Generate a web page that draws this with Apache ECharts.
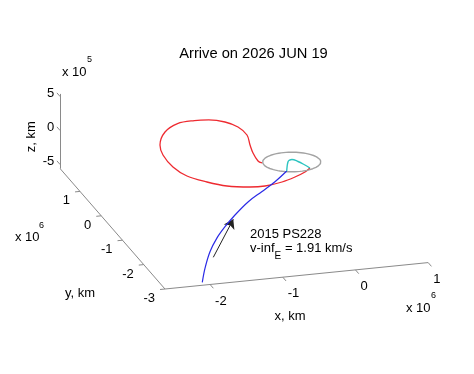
<!DOCTYPE html>
<html><head><meta charset="utf-8">
<script src="https://cdn.jsdelivr.net/npm/echarts@6/dist/echarts.min.js"></script>
<style>html,body{margin:0;padding:0;background:#fff}#c{width:474px;height:374px}</style>
</head><body><div id="c"></div>
<script>
// ---- data (km) ----
const titleText = 'Arrive on 2026 JUN 19';
const xLim = [-2.62e6, 1.0e6];
const yLim = [-3.0e6, 1.93e6];
const zLim = [-5.6e5, 5.4e5];
const xTicks = [-2e6, -1e6, 0, 1e6];
const xTickLabels = ['-2', '-1', '0', '1'];
const yTicks = [-3e6, -2e6, -1e6, 0, 1e6];
const yTickLabels = ['-3', '-2', '-1', '0', '1'];
const zTicks = [-5e5, 0, 5e5];
const zTickLabels = ['-5', '0', '5'];
// approach leg (blue)
const approachX = [-2.074e6, -1.931e6, -1.730e6, -1.542e6, -1.347e6, -1.136e6, -0.866e6, -0.624e6, -0.391e6, -0.162e6];
const approachY = [-2.888e6, -2.525e6, -2.073e6, -1.748e6, -1.470e6, -1.218e6, -0.921e6, -0.723e6, -0.551e6, -0.320e6];
const approachZ = [-5.6e5, -5.0e5, -4.4e5, -3.8e5, -3.3e5, -2.7e5, -2.1e5, -1.6e5, -1.0e5, -0.5e5];
// near-Earth leg (cyan)
const nearX = [-0.162e6, -0.120e6, -0.075e6, -0.040e6, -0.018e6, 0.031e6, 0.085e6, 0.128e6, 0.165e6];
const nearY = [-0.320e6, -0.190e6, -0.059e6, 0.030e6, 0.067e6, 0.093e6, -0.005e6, -0.141e6, -0.295e6];
const nearZ = [-0.5e5, -0.5e5, -0.5e5, -0.5e5, -0.5e5, -0.5e5, -0.5e5, -0.5e5, -0.5e5];
// departure loop (red)
const loopX = [0.165e6, 0.058e6, -0.124e6, -0.343e6, -0.602e6, -0.803e6, -1.083e6, -1.292e6, -1.479e6, -1.557e6, -1.551e6, -1.479e6, -1.272e6, -1.021e6, -0.775e6, -0.585e6, -0.403e6, -0.294e6, -0.268e6, -0.340e6, -0.390e6, -0.415e6, -0.387e6];
const loopY = [-0.295e6, -0.427e6, -0.578e6, -0.717e6, -0.803e6, -0.784e6, -0.660e6, -0.433e6, -0.131e6, 0.261e6, 0.751e6, 1.139e6, 1.610e6, 1.880e6, 1.930e6, 1.900e6, 1.760e6, 1.522e6, 1.187e6, 0.798e6, 0.486e6, 0.165e6, 0.075e6];
const loopZ = loopX.map(() => -0.5e5);
// Moon orbit (gray circle)
const moonOrbitRadius = 384400;
const moonOrbitZ = -0.5e5;
// velocity arrow
const arrowX = [-1.854e6, -1.183e6];
const arrowY = [-2.654e6, -1.298e6];
const arrowZ = [-3.0e5, -3.0e5];
const asteroidName = '2015 PS228';
const vinfText = '1.91 km/s';

// ---- view projection (pixels per 1e6 km in x,y and per 1e5 km in z) ----
const view = { ox: 291.7, oy: 158.6, ex: [72.7, -7.3], ey: [-21.25, -24.4], ez: [0, -6.8] };
function proj(x, y, z) {
  const X = x / 1e6, Y = y / 1e6, Z = z / 1e5;
  return [view.ox + view.ex[0] * X + view.ey[0] * Y + view.ez[0] * Z,
          view.oy + view.ex[1] * X + view.ey[1] * Y + view.ez[1] * Z];
}
const zip3 = (a, b, c) => a.map((v, i) => proj(v, b[i], c[i]));

const moonPts = [];
for (let k = 0; k <= 72; k++) {
  const t = k / 72 * 2 * Math.PI;
  moonPts.push(proj(moonOrbitRadius * Math.cos(t), moonOrbitRadius * Math.sin(t), moonOrbitZ));
}

// axis lines and ticks
const axisSegs = [];
axisSegs.push([proj(xLim[0], yLim[0], zLim[0]), proj(xLim[1], yLim[0], zLim[0])]);
axisSegs.push([proj(xLim[0], yLim[0], zLim[0]), proj(xLim[0], yLim[1], zLim[0])]);
axisSegs.push([proj(xLim[0], yLim[1], zLim[0]), proj(xLim[0], yLim[1], zLim[1])]);
xTicks.forEach(v => axisSegs.push([proj(v, yLim[0], zLim[0]), proj(v, yLim[0] - 0.155e6, zLim[0])]));
yTicks.forEach(v => axisSegs.push([proj(xLim[0], v, zLim[0]), proj(xLim[0] - 0.068e6, v, zLim[0])]));
zTicks.forEach(v => axisSegs.push([proj(xLim[0], yLim[1], v), proj(xLim[0], yLim[1] + 0.155e6, v)]));

const FONT = '"Liberation Sans", Arial, Helvetica, sans-serif';
function txt(text, x, y, size, align, valign, rot) {
  return { type: 'text', x: x, y: y, rotation: rot || 0, z: 100,
    style: { text: text, fontSize: size, fontFamily: FONT, fill: '#000',
      align: align, textAlign: align, verticalAlign: valign, textVerticalAlign: valign } };
}
const graphics = [];
xTicks.forEach((v, i) => { const p = proj(v, yLim[0], zLim[0]); graphics.push(txt(xTickLabels[i], p[0] + 5, p[1] + 16.5, 13, 'left', 'middle')); });
yTicks.forEach((v, i) => { const p = proj(xLim[0], v, zLim[0]); graphics.push(txt(yTickLabels[i], p[0] - 10, p[1] + 9.5, 13, 'right', 'middle')); });
zTicks.forEach((v, i) => { const p = proj(xLim[0], yLim[1], v); graphics.push(txt(zTickLabels[i], p[0] - 6, p[1] - 3, 13, 'right', 'middle')); });
graphics.push(txt(titleText, 253.5, 54, 14.7, 'center', 'middle'));
graphics.push(txt('x 10', 62, 72, 13, 'left', 'middle'));
graphics.push(txt('5', 87, 60, 9, 'left', 'middle'));
graphics.push(txt('z, km', 31.7, 136.7, 13, 'center', 'middle', Math.PI / 2));
graphics.push(txt('x 10', 15, 237, 13, 'left', 'middle'));
graphics.push(txt('6', 39, 226, 9, 'left', 'middle'));
graphics.push(txt('y, km', 80, 293.3, 13, 'center', 'middle'));
graphics.push(txt('x 10', 406, 308.3, 13, 'left', 'middle'));
graphics.push(txt('6', 431, 296, 9, 'left', 'middle'));
graphics.push(txt('x, km', 290, 316.7, 13, 'center', 'middle'));
graphics.push(txt(asteroidName, 250, 234, 13, 'left', 'middle'));
graphics.push(txt('v-inf', 250, 248.3, 13, 'left', 'middle'));
graphics.push(txt('E', 274.6, 256, 10, 'left', 'middle'));
graphics.push(txt(' = ' + vinfText, 281.3, 248.3, 13, 'left', 'middle'));

const chart = echarts.init(document.getElementById('c'), null, { renderer: 'canvas' });
chart.setOption({
  animation: false,
  backgroundColor: '#fff',
  grid: { left: 0, right: 0, top: 0, bottom: 0 },
  xAxis: { type: 'value', min: 0, max: 474, show: false },
  yAxis: { type: 'value', min: 0, max: 374, inverse: true, show: false },
  graphic: graphics,
  series: [
    { type: 'lines', coordinateSystem: 'cartesian2d', silent: true,
      lineStyle: { color: '#8a8a8a', width: 1, opacity: 1 },
      data: axisSegs.map(s => ({ coords: s })) },
    { type: 'line', data: zip3(loopX, loopY, loopZ), showSymbol: false, smooth: 0.35,
      lineStyle: { color: '#ee2a30', width: 1.3 } },
    { type: 'line', data: moonPts, showSymbol: false, smooth: false,
      lineStyle: { color: '#a3a3a3', width: 1.4 } },
    { type: 'line', data: zip3(approachX, approachY, approachZ), showSymbol: false, smooth: 0.35,
      lineStyle: { color: '#2a2ae6', width: 1.2 } },
    { type: 'line', data: zip3(nearX, nearY, nearZ), showSymbol: false, smooth: 0.4,
      lineStyle: { color: '#2cc4c0', width: 1.4 } },
    { type: 'lines', coordinateSystem: 'cartesian2d', silent: true,
      symbol: ['none', 'arrow'], symbolSize: [8, 9],
      lineStyle: { color: '#222', width: 1, opacity: 1 },
      data: [{ coords: zip3(arrowX, arrowY, arrowZ) }] }
  ]
});
</script>
</body></html>
